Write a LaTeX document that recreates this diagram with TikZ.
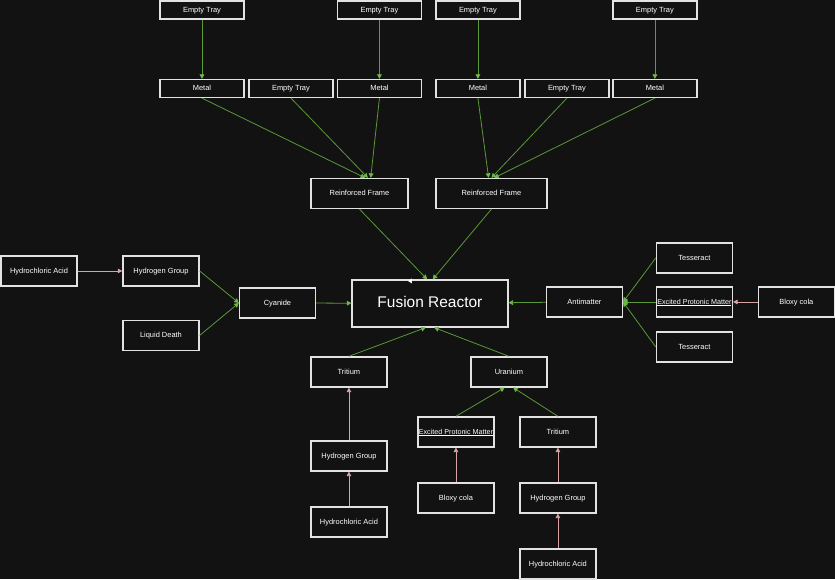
\documentclass[tikz,border=0pt]{standalone}
\usepackage{fontspec}
\setmainfont{Liberation Sans}
\usetikzlibrary{arrows.meta}
\definecolor{canvas}{HTML}{121212}
\definecolor{boxline}{HTML}{E2E2E2}
\definecolor{feedgreen}{HTML}{5C9A3A}
\definecolor{tipgreen}{HTML}{6DB84A}
\definecolor{acidpink}{HTML}{D9A3A3}
\newcommand{\linkname}[1]{%
  \setbox0\hbox{#1}\rlap{\rule[-0.7pt]{\wd0}{0.3pt}}\box0}

\begin{document}
\begin{tikzpicture}[x=0.025cm, y=-0.025cm,
  item/.style={draw=boxline, line width=0.9pt, fill=canvas, text=white,
    font=\fontsize{5.3}{6}\selectfont, inner sep=0pt,
    text height=3.9pt, text depth=0.9pt,
    minimum width=1.9cm, minimum height=0.75cm},
  tray/.style={item, minimum width=2.1cm, minimum height=0.45cm},
  linked/.style={item, font=\fontsize{5.1}{6}\selectfont},
  feed/.style={feedgreen, line width=0.55pt, -{Triangle[length=3.2pt, width=3.4pt, color=tipgreen]}},
  acid/.style={acidpink, line width=0.55pt, -{Triangle[length=3.2pt, width=3.2pt]}}]
  \fill[canvas] (0,0) rectangle (835,579);

  % top rows
  \node[tray] (tray1) at (202,10) {Empty Tray};
  \node[tray] (tray2) at (379.5,10) {Empty Tray};
  \node[tray] (tray3) at (478,10) {Empty Tray};
  \node[tray] (tray4) at (655,10) {Empty Tray};
  \node[tray] (metal1) at (202,88.5) {Metal};
  \node[tray] (tray5) at (291,88.5) {Empty Tray};
  \node[tray] (metal2) at (379.5,88.5) {Metal};
  \node[tray] (metal3) at (478,88.5) {Metal};
  \node[tray] (tray6) at (567,88.5) {Empty Tray};
  \node[tray] (metal4) at (655,88.5) {Metal};
  \node[item, minimum width=2.425cm] (frame1) at (359.5,193.5) {Reinforced Frame};
  \node[item, minimum width=2.775cm] (frame2) at (491.5,193.5) {Reinforced Frame};

  % reactor
  \node[item, minimum width=3.9cm, minimum height=1.175cm,
    font=\fontsize{11}{13}\selectfont, text height=8pt, text depth=2.2pt]
    (reactor) at (430,303.5) {Fusion Reactor};

  % left branch
  \node[item] (acid1) at (39,271) {Hydrochloric Acid};
  \node[item] (hydro1) at (161,271) {Hydrogen Group};
  \node[item] (death) at (161,335.5) {Liquid Death};
  \node[item] (cyanide) at (277.5,303) {Cyanide};

  % right branch
  \node[item] (anti) at (584.5,302) {Antimatter};
  \node[item] (tess1) at (694.5,258) {Tesseract};
  \node[linked] (epm1) at (694.5,302) {\linkname{Excited Protonic Matter}};
  \node[item] (bloxy1) at (796.5,302) {Bloxy cola};
  \node[item] (tess2) at (694.5,347) {Tesseract};

  % bottom branch
  \node[item] (trit1) at (349,372) {Tritium};
  \node[item] (uran) at (509,372) {Uranium};
  \node[item] (hydro2) at (349,456) {Hydrogen Group};
  \node[item] (acid2) at (349,522) {Hydrochloric Acid};
  \node[linked] (epm2) at (456,432) {\linkname{Excited Protonic Matter}};
  \node[item] (trit2) at (558,432) {Tritium};
  \node[item] (bloxy2) at (456,498) {Bloxy cola};
  \node[item] (hydro3) at (558,498) {Hydrogen Group};
  \node[item] (acid3) at (558,564) {Hydrochloric Acid};

  % green feeds
  \draw[feed] (tray1) -- (metal1);
  \draw[feed] (tray2) -- (metal2);
  \draw[feed] (tray3) -- (metal3);
  \draw[feed] (tray4) -- (metal4);
  \draw[feed] (metal1.south) -- ([xshift=4]frame1.north);
  \draw[feed] (tray5.south) -- ([xshift=6]frame1.north);
  \draw[feed] (metal2.south) -- ([xshift=8]frame1.north);
  \draw[feed] (metal3.south) -- ([xshift=-2]frame2.north);
  \draw[feed] (tray6.south) -- (frame2.north);
  \draw[feed] (metal4.south) -- ([xshift=2]frame2.north);
  \draw[feed] (frame1.south) -- ([xshift=-2]reactor.north);
  \draw[feed] (frame2.south) -- ([xshift=2]reactor.north);
  \draw[feed] (hydro1.east) -- (cyanide.west);
  \draw[feed] (death.east) -- (cyanide.west);
  \draw[feed] (cyanide) -- (reactor);
  \draw[feed] (anti) -- (reactor);
  \draw[feed] (tess1.west) -- (anti.east);
  \draw[feed] (epm1.west) -- (anti.east);
  \draw[feed] (tess2.west) -- (anti.east);
  \draw[feed] (trit1.north) -- ([xshift=-3]reactor.south);
  \draw[feed] (uran.north) -- ([xshift=3]reactor.south);
  \draw[feed] (epm2.north) -- ([xshift=-3]uran.south);
  \draw[feed] (trit2.north) -- ([xshift=3]uran.south);

  % pink feeds
  \draw[acid] (acid1) -- (hydro1);
  \draw[acid] (bloxy1) -- (epm1);
  \draw[acid] (hydro2) -- (trit1);
  \draw[acid] (acid2) -- (hydro2);
  \draw[acid] (bloxy2) -- (epm2);
  \draw[acid] (hydro3) -- (trit2);
  \draw[acid] (acid3) -- (hydro3);

  % stray tip on the reactor edge
  \fill[white] (408,281) -- (412,278.5) -- (412,283.5) -- cycle;
\end{tikzpicture}
\end{document}
